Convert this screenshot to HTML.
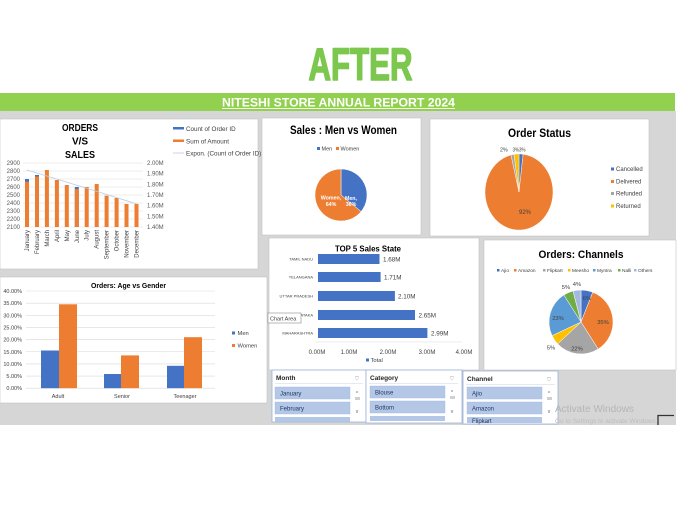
<!DOCTYPE html>
<html><head><meta charset="utf-8">
<style>
html,body{margin:0;padding:0;background:#fff;width:680px;height:510px;overflow:hidden}
svg{display:block}
text{font-family:"Liberation Sans",sans-serif}
</style></head>
<body>
<svg width="680" height="510" viewBox="0 0 680 510" xmlns="http://www.w3.org/2000/svg">
<rect width="680" height="510" fill="#fff"/>

<!-- Title -->
<text x="360.5" y="80" text-anchor="middle" font-family="Liberation Sans, sans-serif" font-weight="bold" font-size="45" fill="#7cc74e" stroke="#7cc74e" stroke-width="1.6" stroke-linejoin="round" textLength="104" lengthAdjust="spacingAndGlyphs">AFTER</text>

<!-- banner -->
<rect x="0" y="93" width="675" height="18" fill="#92d050"/>
<text x="338.5" y="106.5" text-anchor="middle" font-weight="bold" font-size="11.5" fill="#fff" textLength="233" lengthAdjust="spacingAndGlyphs">NITESHI STORE ANNUAL REPORT 2024</text>
<line x1="222" y1="108.6" x2="455" y2="108.6" stroke="#fff" stroke-width="0.9"/>

<!-- gray dashboard bg -->
<rect x="0" y="111" width="676" height="314" fill="#d6d6d6"/>

<!-- Panels -->
<rect x="0" y="119" width="258" height="150" fill="#fff" stroke="#c4c4c4" stroke-width="0.6"/>
<rect x="262" y="118" width="159" height="117" fill="#fff" stroke="#c4c4c4" stroke-width="0.6"/>
<rect x="430" y="119" width="219" height="117" fill="#fff" stroke="#c4c4c4" stroke-width="0.6"/>
<rect x="0" y="277" width="267" height="126" fill="#fff" stroke="#c4c4c4" stroke-width="0.6"/>
<rect x="269" y="238" width="210" height="132" fill="#fff" stroke="#c4c4c4" stroke-width="0.6"/>
<rect x="484" y="240" width="192" height="130" fill="#fff" stroke="#c4c4c4" stroke-width="0.6"/>

<!-- ===== Chart 1: Orders vs Sales ===== -->
<g font-weight="bold" font-size="10" fill="#000" text-anchor="middle">
<text x="80" y="131" textLength="36" lengthAdjust="spacingAndGlyphs">ORDERS</text>
<text x="80" y="144.5">V/S</text>
<text x="80" y="158" textLength="30" lengthAdjust="spacingAndGlyphs">SALES</text>
</g>
<rect x="173" y="127" width="11" height="2.5" fill="#4472c4"/>
<text x="186" y="131" font-size="6.3" fill="#404040">Count of Order ID</text>
<rect x="173" y="139.5" width="11" height="2.5" fill="#ed7d31"/>
<text x="186" y="143.3" font-size="6.3" fill="#404040">Sum of Amount</text>
<line x1="173" y1="153" x2="184" y2="153" stroke="#b9cbe6" stroke-width="0.8"/>
<text x="186" y="155.5" font-size="6.3" fill="#404040">Expon. (Count of Order ID)</text>

<g stroke="#d9d9d9" stroke-width="0.6">
<line x1="23" y1="163" x2="143" y2="163"/><line x1="23" y1="171" x2="143" y2="171"/>
<line x1="23" y1="179" x2="143" y2="179"/><line x1="23" y1="187" x2="143" y2="187"/>
<line x1="23" y1="195" x2="143" y2="195"/><line x1="23" y1="203" x2="143" y2="203"/>
<line x1="23" y1="211" x2="143" y2="211"/><line x1="23" y1="219" x2="143" y2="219"/>
<line x1="23" y1="227" x2="143" y2="227"/>
</g>
<g font-size="6" fill="#595959" text-anchor="end">
<text x="20" y="165">2900</text><text x="20" y="173">2800</text><text x="20" y="181">2700</text>
<text x="20" y="189">2600</text><text x="20" y="197">2500</text><text x="20" y="205">2400</text>
<text x="20" y="213">2300</text><text x="20" y="221">2200</text><text x="20" y="229">2100</text>
</g>
<g font-size="6" fill="#595959">
<text x="147" y="165">2.00M</text><text x="147" y="175.7">1.90M</text><text x="147" y="186.3">1.80M</text>
<text x="147" y="197">1.70M</text><text x="147" y="207.7">1.60M</text><text x="147" y="218.3">1.50M</text>
<text x="147" y="229">1.40M</text>
</g>
<!-- blue caps -->
<g fill="#4472c4">
<rect x="25" y="179" width="4" height="48"/>
<rect x="35" y="175" width="4" height="52"/>
<rect x="74.8" y="187" width="4" height="40"/>
</g>
<g fill="#ed7d31">
<rect x="25" y="181.7" width="4" height="45.3"/>
<rect x="35" y="176.5" width="4" height="50.5"/>
<rect x="44.9" y="170" width="4" height="57"/>
<rect x="54.9" y="180" width="4" height="47"/>
<rect x="64.8" y="185" width="4" height="42"/>
<rect x="74.8" y="189" width="4" height="38"/>
<rect x="84.7" y="187" width="4" height="40"/>
<rect x="94.7" y="184" width="4" height="43"/>
<rect x="104.6" y="195.7" width="4" height="31.3"/>
<rect x="114.6" y="198" width="4" height="29"/>
<rect x="124.5" y="204" width="4" height="23"/>
<rect x="134.5" y="204" width="4" height="23"/>
</g>
<path d="M27,170 Q80,186 137,204" fill="none" stroke="#b9cbe6" stroke-width="0.8"/>
<g font-size="6" fill="#404040" text-anchor="end">
<text transform="translate(29,230) rotate(-90)">January</text>
<text transform="translate(39,230) rotate(-90)">February</text>
<text transform="translate(48.9,230) rotate(-90)">March</text>
<text transform="translate(58.9,230) rotate(-90)">April</text>
<text transform="translate(68.8,230) rotate(-90)">May</text>
<text transform="translate(78.8,230) rotate(-90)">June</text>
<text transform="translate(88.7,230) rotate(-90)">July</text>
<text transform="translate(98.7,230) rotate(-90)">August</text>
<text transform="translate(108.6,230) rotate(-90)">September</text>
<text transform="translate(118.6,230) rotate(-90)">October</text>
<text transform="translate(128.5,230) rotate(-90)">November</text>
<text transform="translate(138.5,230) rotate(-90)">December</text>
</g>

<!-- ===== Chart 2: Men vs Women ===== -->
<text x="343.5" y="134" text-anchor="middle" font-weight="bold" font-size="11.5" fill="#000" textLength="107" lengthAdjust="spacingAndGlyphs">Sales : Men vs Women</text>
<rect x="317" y="147" width="3" height="3" fill="#4472c4"/>
<text x="321.5" y="150.3" font-size="5.5" fill="#404040">Men</text>
<rect x="336" y="147" width="3" height="3" fill="#ed7d31"/>
<text x="340.5" y="150.3" font-size="5.5" fill="#404040">Women</text>
<path d="M341,195 L341,169 A26,26 0 0 1 361.03,211.57 Z" fill="#4472c4" stroke="#fff" stroke-width="0.5"/>
<path d="M341,195 L361.03,211.57 A26,26 0 1 1 341,169 Z" fill="#ed7d31" stroke="#fff" stroke-width="0.5"/>
<g font-size="5.3" font-weight="bold" fill="#fff" text-anchor="middle">
<text x="351" y="200">Men,</text><text x="351" y="206">36%</text>
<text x="331" y="199.5">Women,</text><text x="331" y="206">64%</text>
</g>

<!-- ===== Chart 3: Order Status ===== -->
<text x="539.5" y="137" text-anchor="middle" font-weight="bold" font-size="11.5" fill="#000" textLength="63" lengthAdjust="spacingAndGlyphs">Order Status</text>
<g transform="translate(519,192) scale(1,1.12)" stroke="#fff" stroke-width="0.4">
<path d="M0,0 L0,-34 A34,34 0 0 1 4.14,-33.75 Z" fill="#4472c4"/>
<path d="M0,0 L4.14,-33.75 A34,34 0 1 1 -7.99,-33.05 Z" fill="#ed7d31"/>
<path d="M0,0 L-7.99,-33.05 A34,34 0 0 1 -5.03,-33.63 Z" fill="#a5a5a5"/>
<path d="M0,0 L-5.03,-33.63 A34,34 0 0 1 0,-34 Z" fill="#ffc000"/>
</g>
<g font-size="5.3" fill="#404040">
<text x="500" y="151.5">2%</text>
<text x="512.5" y="151.5" textLength="13" lengthAdjust="spacingAndGlyphs">3%3%</text>
</g>
<text x="525" y="214" text-anchor="middle" font-size="6" fill="#404040">92%</text>
<g font-size="6" fill="#404040">
<rect x="611" y="167.5" width="3" height="3" fill="#4472c4"/><text x="616" y="171">Cancelled</text>
<rect x="611" y="180" width="3" height="3" fill="#ed7d31"/><text x="616" y="183.5">Delivered</text>
<rect x="611" y="192" width="3" height="3" fill="#a5a5a5"/><text x="616" y="195.5">Refunded</text>
<rect x="611" y="204.5" width="3" height="3" fill="#ffc000"/><text x="616" y="208">Returned</text>
</g>

<!-- ===== Chart 4: Age vs Gender ===== -->
<text x="128.5" y="288" text-anchor="middle" font-weight="bold" font-size="7.5" fill="#000" textLength="75" lengthAdjust="spacingAndGlyphs">Orders: Age vs Gender</text>
<g stroke="#d9d9d9" stroke-width="0.6">
<line x1="26" y1="291" x2="215" y2="291"/><line x1="26" y1="303.15" x2="215" y2="303.15"/>
<line x1="26" y1="315.3" x2="215" y2="315.3"/><line x1="26" y1="327.45" x2="215" y2="327.45"/>
<line x1="26" y1="339.6" x2="215" y2="339.6"/><line x1="26" y1="351.75" x2="215" y2="351.75"/>
<line x1="26" y1="363.9" x2="215" y2="363.9"/><line x1="26" y1="376.05" x2="215" y2="376.05"/>
<line x1="26" y1="388.2" x2="215" y2="388.2"/>
</g>
<g font-size="5.5" fill="#404040" text-anchor="end">
<text x="22" y="293">40.00%</text><text x="22" y="305.2">35.00%</text><text x="22" y="317.3">30.00%</text>
<text x="22" y="329.5">25.00%</text><text x="22" y="341.6">20.00%</text><text x="22" y="353.8">15.00%</text>
<text x="22" y="365.9">10.00%</text><text x="22" y="378">5.00%</text><text x="22" y="390.2">0.00%</text>
</g>
<g fill="#4472c4">
<rect x="41" y="350.5" width="18" height="37.7"/>
<rect x="104" y="374" width="17" height="14.2"/>
<rect x="167" y="365.8" width="17" height="22.4"/>
</g>
<g fill="#ed7d31">
<rect x="59" y="304.3" width="18" height="83.9"/>
<rect x="121" y="355.4" width="18" height="32.8"/>
<rect x="184" y="337.2" width="18" height="51"/>
</g>
<g font-size="5.5" fill="#404040" text-anchor="middle">
<text x="58" y="398">Adult</text><text x="122" y="398">Senior</text><text x="185" y="398">Teenager</text>
</g>
<rect x="232" y="331.5" width="3" height="3" fill="#4472c4"/>
<text x="237.5" y="335" font-size="5.8" fill="#404040">Men</text>
<rect x="232" y="344" width="3" height="3" fill="#ed7d31"/>
<text x="237.5" y="347.5" font-size="5.8" fill="#404040">Women</text>

<!-- ===== Chart 5: Top 5 Sales State ===== -->
<text x="368" y="251.5" text-anchor="middle" font-weight="bold" font-size="8" fill="#000" textLength="66" lengthAdjust="spacingAndGlyphs">TOP 5 Sales State</text>
<line x1="315" y1="342" x2="462" y2="342" stroke="#d9d9d9" stroke-width="0.6"/>
<g fill="#4472c4">
<rect x="318" y="254" width="61.5" height="10"/>
<rect x="318" y="272" width="62.6" height="10"/>
<rect x="318" y="291" width="76.9" height="10"/>
<rect x="318" y="310" width="97" height="10"/>
<rect x="318" y="328" width="109.4" height="10"/>
</g>
<g font-size="6.3" fill="#404040">
<text x="383" y="261.5">1.68M</text>
<text x="384" y="279.5">1.71M</text>
<text x="398" y="298.5">2.10M</text>
<text x="418.5" y="317.5">2.65M</text>
<text x="431" y="335.5">2.99M</text>
</g>
<g font-size="4" fill="#404040" text-anchor="end">
<text x="313" y="260.5">TAMIL NADU</text>
<text x="313" y="278.5">TELANGANA</text>
<text x="313" y="297.5">UTTAR PRADESH</text>
<text x="313" y="316.5">KARNATAKA</text>
<text x="313" y="334.5">MAHARASHTRA</text>
</g>
<g font-size="6" fill="#404040" text-anchor="middle">
<text x="317" y="354">0.00M</text><text x="349" y="354">1.00M</text>
<text x="388" y="354">2.00M</text><text x="427" y="354">3.00M</text><text x="464" y="354">4.00M</text>
</g>
<rect x="366" y="358.5" width="3" height="3" fill="#4472c4"/>
<text x="370.5" y="362" font-size="5.8" fill="#404040">Total</text>
<!-- tooltip -->
<rect x="268" y="313" width="33" height="10" fill="#fff" stroke="#8c8c8c" stroke-width="0.6"/>
<text x="270" y="320.3" font-size="5.5" fill="#404040">Chart Area</text>

<!-- ===== Chart 6: Channels ===== -->
<text x="581" y="258" text-anchor="middle" font-weight="bold" font-size="11" fill="#000" textLength="85" lengthAdjust="spacingAndGlyphs">Orders: Channels</text>
<g font-size="4.8" fill="#404040">
<rect x="497" y="269" width="2.5" height="2.5" fill="#4472c4"/><text x="501" y="272">Ajio</text>
<rect x="514" y="269" width="2.5" height="2.5" fill="#ed7d31"/><text x="518" y="272">Amazon</text>
<rect x="543" y="269" width="2.5" height="2.5" fill="#a5a5a5"/><text x="547" y="272">Flipkart</text>
<rect x="568" y="269" width="2.5" height="2.5" fill="#ffc000"/><text x="572" y="272">Meesho</text>
<rect x="593" y="269" width="2.5" height="2.5" fill="#5b9bd5"/><text x="597" y="272">Myntra</text>
<rect x="618" y="269" width="2.5" height="2.5" fill="#70ad47"/><text x="622" y="272">Nalli</text>
<rect x="634" y="269" width="2.5" height="2.5" fill="#a4b8e0"/><text x="638" y="272">Others</text>
</g>
<g stroke="#fff" stroke-width="0.5">
<path d="M581,322 L581,290 A32,32 0 0 1 592.78,292.25 Z" fill="#4472c4"/>
<path d="M581,322 L592.78,292.25 A32,32 0 0 1 598.15,349.02 Z" fill="#ed7d31"/>
<path d="M581,322 L598.15,349.02 A32,32 0 0 1 557.67,343.90 Z" fill="#a5a5a5"/>
<path d="M581,322 L557.67,343.90 A32,32 0 0 1 552.05,335.63 Z" fill="#ffc000"/>
<path d="M581,322 L552.05,335.63 A32,32 0 0 1 563.85,294.98 Z" fill="#5b9bd5"/>
<path d="M581,322 L563.85,294.98 A32,32 0 0 1 573.04,291.0 Z" fill="#70ad47"/>
<path d="M581,322 L573.04,291.0 A32,32 0 0 1 581,290 Z" fill="#a4b8e0"/>
</g>
<g font-size="5.8" fill="#404040" text-anchor="middle">
<text x="587" y="300">6%</text>
<text x="603" y="324">35%</text>
<text x="577" y="350.5">22%</text>
<text x="551" y="349.5">5%</text>
<text x="558" y="320">23%</text>
<text x="566" y="289">5%</text>
<text x="577" y="286">4%</text>
</g>

<!-- ===== Slicers ===== -->
<g>
<rect x="272" y="370" width="94" height="52" fill="#fff" stroke="#9db3d9" stroke-width="0.8"/>
<text x="276" y="380" font-size="6.5" font-weight="bold" fill="#262626">Month</text>
<text x="355" y="380" font-size="5" fill="#a0a0a0">⛉</text>
<line x1="275" y1="383.5" x2="363" y2="383.5" stroke="#c9d3e6" stroke-width="0.6"/>
<rect x="275" y="387" width="75" height="12" fill="#b4c7e7" stroke="#9fb6de" stroke-width="0.4"/>
<text x="280" y="395.5" font-size="6" fill="#1f3864">January</text>
<rect x="275" y="402" width="75" height="12" fill="#b4c7e7" stroke="#9fb6de" stroke-width="0.4"/>
<text x="280" y="410.5" font-size="6" fill="#1f3864">February</text>
<rect x="275" y="417" width="75" height="4.5" fill="#b4c7e7"/>
<text x="357" y="395" font-size="5" fill="#606060" text-anchor="middle">^</text>
<rect x="355" y="397" width="5" height="3" fill="#d0d0d0"/>
<text x="357" y="413" font-size="5" fill="#606060" text-anchor="middle">v</text>
</g>
<g>
<rect x="366" y="370" width="96" height="53" fill="#fff" stroke="#9db3d9" stroke-width="0.8"/>
<text x="370" y="380" font-size="6.5" font-weight="bold" fill="#262626">Category</text>
<text x="450" y="380" font-size="5" fill="#a0a0a0">⛉</text>
<line x1="369" y1="383.5" x2="458" y2="383.5" stroke="#c9d3e6" stroke-width="0.6"/>
<rect x="370" y="386" width="75" height="12" fill="#b4c7e7" stroke="#9fb6de" stroke-width="0.4"/>
<text x="375" y="394.5" font-size="6" fill="#1f3864">Blouse</text>
<rect x="370" y="401" width="75" height="12" fill="#b4c7e7" stroke="#9fb6de" stroke-width="0.4"/>
<text x="375" y="409.5" font-size="6" fill="#1f3864">Bottom</text>
<rect x="370" y="416" width="75" height="5" fill="#b4c7e7"/>
<text x="452" y="394" font-size="5" fill="#606060" text-anchor="middle">^</text>
<rect x="450" y="396" width="5" height="3" fill="#d0d0d0"/>
<text x="452" y="413" font-size="5" fill="#606060" text-anchor="middle">v</text>
</g>
<g>
<rect x="463" y="371" width="95" height="53" fill="#fff" stroke="#9db3d9" stroke-width="0.8"/>
<text x="467" y="381" font-size="6.5" font-weight="bold" fill="#262626">Channel</text>
<text x="547" y="381" font-size="5" fill="#a0a0a0">⛉</text>
<line x1="466" y1="384.5" x2="555" y2="384.5" stroke="#c9d3e6" stroke-width="0.6"/>
<rect x="467" y="387" width="75" height="12" fill="#b4c7e7" stroke="#9fb6de" stroke-width="0.4"/>
<text x="472" y="395.5" font-size="6" fill="#1f3864">Ajio</text>
<rect x="467" y="402" width="75" height="12" fill="#b4c7e7" stroke="#9fb6de" stroke-width="0.4"/>
<text x="472" y="410.5" font-size="6" fill="#1f3864">Amazon</text>
<rect x="467" y="417" width="75" height="6" fill="#b4c7e7"/>
<text x="472" y="423" font-size="6" fill="#1f3864">Flipkart</text>
<text x="549" y="395" font-size="5" fill="#606060" text-anchor="middle">^</text>
<rect x="547" y="397" width="5" height="3" fill="#d0d0d0"/>
<text x="549" y="413" font-size="5" fill="#606060" text-anchor="middle">v</text>
</g>
<!-- cover below gray -->
<rect x="0" y="425" width="680" height="85" fill="#fff"/>

<!-- Activate Windows watermark -->
<text x="555" y="412" font-size="10" fill="#b5b5b5">Activate Windows</text>
<text x="555" y="423" font-size="6.5" fill="#bdbdbd">Go to Settings to activate Windows.</text>
<path d="M658,425 L658,415.5 L674,415.5" fill="none" stroke="#333" stroke-width="1.3"/>
</svg>
</body></html>
